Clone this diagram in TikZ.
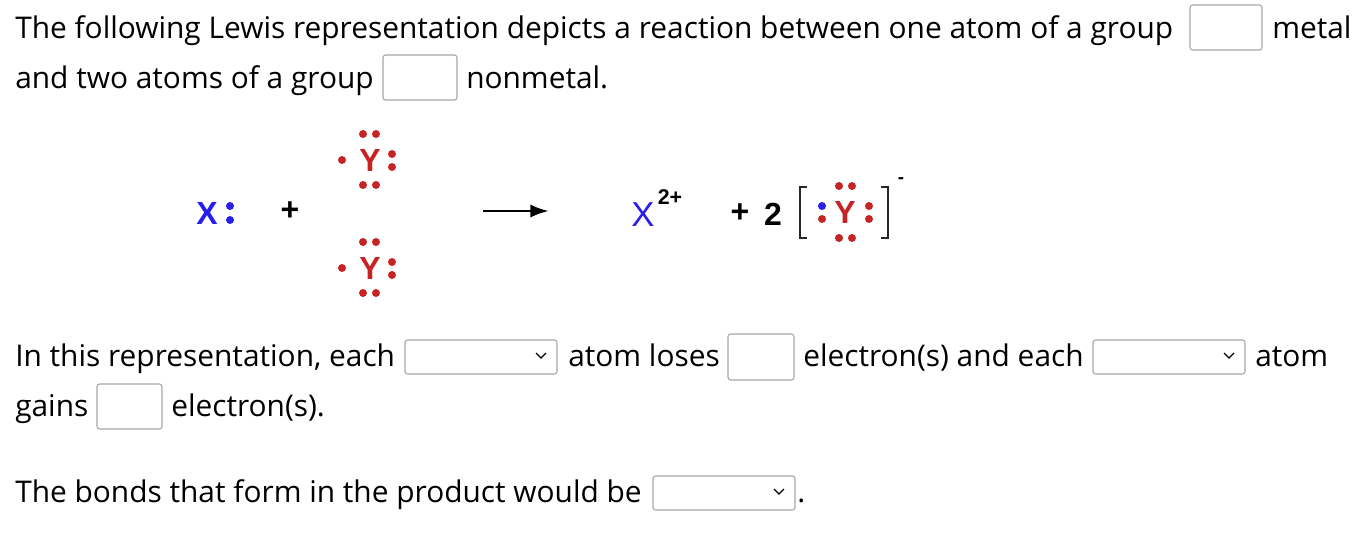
\documentclass[tikz,border=0pt]{standalone}
\usetikzlibrary{arrows.meta}
\usepackage{fontspec}
\setmainfont{Open Sans}
\newfontfamily\lw{Liberation Sans}
\definecolor{yred}{RGB}{200,35,35}
\definecolor{xblue}{RGB}{40,30,235}
\begin{document}
\begin{tikzpicture}[x=0.75pt,y=-0.75pt,
  txt/.style={anchor=base west,inner sep=0,font=\fontsize{22.4}{26}\selectfont},
  inbox/.style={draw=gray!70,rounded corners=2pt,line width=0.8pt},
  ddbox/.style={draw=gray!70,rounded corners=2pt,line width=0.8pt},
  lw/.style={font=\lw\bfseries\fontsize{24}{28}\selectfont,inner sep=0},
  rd/.style={fill=yred},bd/.style={fill=xblue}]
\useasboundingbox (0,0) rectangle (1356,544);
\node[txt] (t1) at (15,38) {The following Lewis representation depicts a reaction between one atom of a group};
\draw[inbox] (1190,5) rectangle (1262,50);
\node[txt] (t2) at (1272,38) {metal};
\node[txt] (t3) at (15,88) {and two atoms of a group};
\draw[inbox] (383,55) rectangle (457,100);
\node[txt] (t4) at (466,88) {nonmetal.};
% Lewis
\node[lw,text=xblue] (X) at (207,213) {X};
\foreach \y in {206,220} \fill[bd] (230,\y) circle (4);
\node[lw] (p1) at (290,211) {+};
\foreach \cy in {160,268}{
  \node[lw,text=yred] at (370,\cy) {Y};
  \fill[rd] (363,\cy-26) circle (4); \fill[rd] (376,\cy-26) circle (4);
  \fill[rd] (363,\cy+25) circle (4); \fill[rd] (376,\cy+25) circle (4);
  \fill[rd] (342,\cy) circle (4);
  \fill[rd] (392,\cy-6) circle (4); \fill[rd] (392,\cy+7) circle (4);
}
\coordinate (a1) at (483,211); \coordinate (a2) at (549,211);
\draw[line width=2.2pt,-{Latex[length=14pt,width=10pt]}] (a1) -- (a2);
\node[lw,text=xblue,font=\lw\fontsize{26}{30}\selectfont] (X2) at (643,215) {X};
\node[lw,font=\lw\bfseries\fontsize{16}{18}\selectfont] at (670,197) {2+};
\node[lw] (p2) at (740,213) {+};
\node[lw] (two) at (773,214) {2};
\draw[line width=1.2pt,gray!30!black] (807,187) -- (800,187) -- (800,238) -- (807,238);
\draw[line width=1.2pt,gray!30!black] (881,187) -- (888,187) -- (888,238) -- (881,238);
\node[lw,text=yred] (Yp) at (845,212) {Y};
\fill[rd] (839,186) circle (4); \fill[rd] (852,186) circle (4);
\fill[rd] (839,238) circle (4); \fill[rd] (852,238) circle (4);
\fill[bd] (822,206) circle (4); \fill[rd] (822,219) circle (4);
\fill[rd] (869,206) circle (4); \fill[rd] (869,219) circle (4);
\node[lw,font=\lw\bfseries\fontsize{14}{16}\selectfont] at (901,181) {-};
% second part
\node[txt] (t5) at (15,366) {In this representation, each};
\draw[ddbox] (405,340) rectangle (557,374);
\draw[line width=0.9pt] (536,353) -- (541,358) -- (546,353);
\node[txt] (t6) at (568,366) {atom loses};
\draw[inbox] (728,334) rectangle (794,380);
\node[txt] (t7) at (803,366) {electron(s) and each};
\draw[ddbox] (1093,340) rectangle (1245,374);
\draw[line width=0.9pt] (1224,353) -- (1229,358) -- (1234,353);
\node[txt] (t8) at (1255,366) {atom};
\node[txt] (t9) at (15,416) {gains};
\draw[inbox] (97,384) rectangle (162,429);
\node[txt] (t10) at (171,416) {electron(s).};
\node[txt] (t11) at (15,502) {The bonds that form in the product would be};
\draw[ddbox] (653,476) rectangle (795,510);
\draw[line width=0.9pt] (774,489) -- (779,494) -- (784,489);
\node[txt] (t12) at (797,502) {.};
\end{tikzpicture}
\end{document}
